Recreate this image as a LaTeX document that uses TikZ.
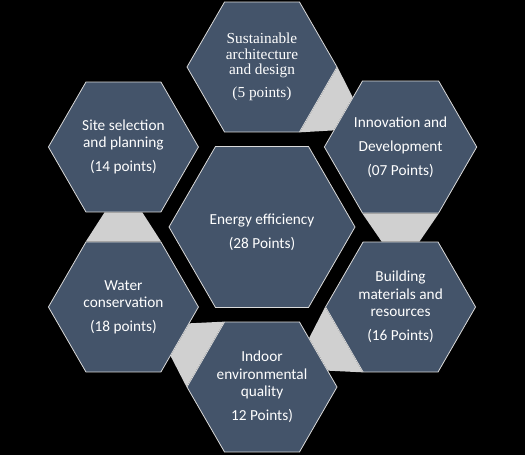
\documentclass[tikz,border=0pt]{standalone}
\usepackage{fontspec}
\setmainfont{Carlito}
\newfontfamily\timesfont{Liberation Serif}
\usetikzlibrary{shapes.geometric,calc}

\definecolor{hexblue}{HTML}{44546A}
\definecolor{linkgray}{HTML}{D0D0D0}
\definecolor{hexrim}{HTML}{DADADA}

\pgfdeclarelayer{back}
\pgfdeclarelayer{links}
\pgfsetlayers{back,links,main}

\begin{document}
\begin{tikzpicture}[
  x=1pt, y=1pt,
  hex/.style    = {regular polygon, regular polygon sides=6, draw=hexrim, line width=0.8pt,
                   fill=hexblue, text=white, inner sep=0pt, minimum size=150pt, align=center,
                   font=\fontsize{15.3}{17.3}\selectfont},
  bighex/.style = {hex, minimum size=186pt},
  serif/.style  = {font=\timesfont\fontsize{15.3}{15.5}\selectfont},
  link/.style   = {fill=linkgray}
]

\useasboundingbox (0,0) rectangle (525,455);
\begin{pgfonlayer}{back}
  \fill[black] (0,0) rectangle (525,455);
\end{pgfonlayer}

% ================= hexagons =================
\node[bighex] (ee) at (262,228) {\rule{0pt}{22pt}Energy efficiency\\[6.7pt](28 Points)};

\node[hex, serif] (sd) at ($(ee)+(90:160)$)  {Sustainable\\architecture\\and design\\[7.5pt](5 points)};
\node[hex]        (in) at ($(ee)+(30:160)$)  {Innovation and\\[6.7pt]Development\\[6.7pt](07 Points)};
\node[hex]        (bm) at ($(ee)+(-30:160)$) {Building\\materials and\\resources\\[6.7pt](16 Points)};
\node[hex]        (ie) at ($(ee)+(-90:160)$) {Indoor\\environmental\\quality\\[6.7pt]12 Points)};
\node[hex]        (wc) at ($(ee)+(-150:160)$) {Water\\conservation\\[6.7pt](18 points)};
\node[hex]        (sp) at ($(ee)+(150:160)$) {Site selection\\and planning\\[6.7pt](14 points)};

% ================= gray links (wide end at the source) =================
\begin{pgfonlayer}{links}
  \fill[link] (sd.corner 6) -- (sd.corner 5)
    -- ($(in.corner 3)!0.25!(in.corner 2)$) -- ($(in.corner 3)!0.75!(in.corner 2)$) -- cycle;
  \fill[link] (in.corner 4) -- (in.corner 5)
    -- ($(bm.corner 1)!0.25!(bm.corner 2)$) -- ($(bm.corner 1)!0.75!(bm.corner 2)$) -- cycle;
  \fill[link] (bm.corner 3) -- (bm.corner 4)
    -- ($(ie.corner 6)!0.25!(ie.corner 1)$) -- ($(ie.corner 6)!0.75!(ie.corner 1)$) -- cycle;
  \fill[link] (ie.corner 2) -- (ie.corner 3)
    -- ($(wc.corner 5)!0.25!(wc.corner 6)$) -- ($(wc.corner 5)!0.75!(wc.corner 6)$) -- cycle;
  \fill[link] (wc.corner 2) -- (wc.corner 1)
    -- ($(sp.corner 5)!0.25!(sp.corner 4)$) -- ($(sp.corner 5)!0.75!(sp.corner 4)$) -- cycle;
\end{pgfonlayer}

\end{tikzpicture}
\end{document}
